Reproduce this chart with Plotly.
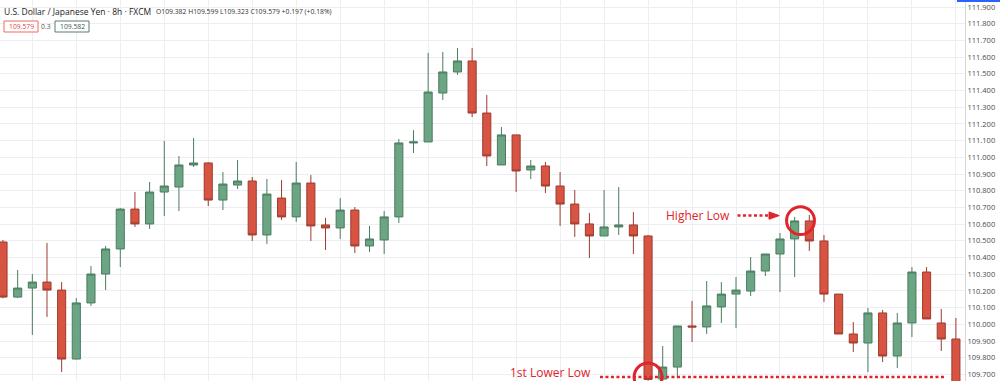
import plotly.graph_objects as go

# ---- data (USD/JPY 8h candles) ----
candle_index = list(range(66))
opens = [110.493, 110.163, 110.217, 110.253, 110.205, 109.792, 110.128, 110.301, 110.451, 110.690,
         110.601, 110.792, 110.822, 110.954, 110.966, 110.744, 110.834, 110.858, 110.535, 110.756,
         110.643, 110.846, 110.595, 110.577, 110.684, 110.469, 110.505, 110.643, 111.086, 111.092,
         111.385, 111.511, 111.577, 111.265, 110.954, 111.134, 110.924, 110.948, 110.828, 110.720,
         110.601, 110.529, 110.583, 110.595, 110.529, 109.672, 109.744, 109.990, 109.984, 110.104,
         110.181, 110.199, 110.319, 110.421, 110.511, 110.619, 110.499, 110.181, 109.942, 109.888,
         110.068, 109.810, 110.008, 110.313, 110.008, 109.912]
highs = [110.505, 110.325, 110.301, 110.487, 110.253, 110.157, 110.349, 110.469, 110.696, 110.792,
         110.852, 111.098, 111.008, 111.116, 110.970, 110.912, 110.984, 110.882, 110.870, 110.864,
         110.972, 110.894, 110.637, 110.756, 110.702, 110.589, 110.678, 111.110, 111.163, 111.625,
         111.631, 111.654, 111.654, 111.373, 111.181, 111.134, 110.984, 110.972, 110.912, 110.804,
         110.667, 110.804, 110.822, 110.672, 110.535, 109.870, 109.990, 110.140, 110.259, 110.253,
         110.283, 110.403, 110.421, 110.547, 110.643, 110.655, 110.535, 110.181, 110.014, 110.098,
         110.086, 110.068, 110.343, 110.343, 110.092, 110.038]
lows = [110.155, 110.157, 109.936, 110.044, 109.714, 109.790, 110.110, 110.205, 110.343, 110.583,
        110.571, 110.649, 110.678, 110.942, 110.708, 110.684, 110.810, 110.499, 110.481, 110.625,
        110.613, 110.499, 110.445, 110.511, 110.427, 110.433, 110.421, 110.607, 111.026, 111.092,
        111.343, 111.493, 111.241, 110.948, 110.954, 110.792, 110.870, 110.786, 110.589, 110.523,
        110.397, 110.529, 110.535, 110.421, 109.662, 109.662, 109.678, 109.894, 109.942, 110.008,
        109.978, 110.169, 110.289, 110.193, 110.283, 110.439, 110.134, 109.942, 109.834, 109.714,
        109.774, 109.738, 109.924, 110.032, 109.840, 109.580]
closes = [110.163, 110.217, 110.253, 110.205, 109.792, 110.128, 110.301, 110.451, 110.690, 110.601,
          110.792, 110.828, 110.954, 110.966, 110.744, 110.840, 110.858, 110.535, 110.780, 110.643,
          110.846, 110.589, 110.577, 110.684, 110.469, 110.511, 110.643, 111.086, 111.092, 111.391,
          111.511, 111.577, 111.265, 111.008, 111.134, 110.918, 110.948, 110.828, 110.720, 110.601,
          110.529, 110.583, 110.595, 110.529, 109.670, 109.744, 109.990, 109.984, 110.110, 110.181,
          110.205, 110.319, 110.421, 110.511, 110.619, 110.499, 110.181, 109.942, 109.888, 110.068,
          109.810, 110.008, 110.313, 110.032, 109.912, 109.600]

price_ticks = [109.7, 109.8, 109.9, 110.0, 110.1, 110.2, 110.3, 110.4, 110.5, 110.6, 110.7,
               110.8, 110.9, 111.0, 111.1, 111.2, 111.3, 111.4, 111.5, 111.6, 111.7, 111.8, 111.9]

title_text = "U.S. Dollar / Japanese Yen · 8h · FXCM"
ohlc_text = "O109.382 H109.599 L109.323 C109.579 +0.197 (+0.18%)"
bid_text, spread_text, ask_text = "109.579", "0.3", "109.582"

higher_low_level = 110.651
lower_low_level = 109.684

# ---- layout geometry ----
W, H = 1000, 381
ML, MR = 0, 35
PW = W - ML - MR
Y_MIN, Y_MAX = 109.6605, 111.9419


def px(x):
    return (x - ML) / PW


def py(y):
    return 1 - y / H


RED = "#e0242b"

fig = go.Figure()
fig.add_trace(go.Candlestick(
    x=candle_index, open=opens, high=highs, low=lows, close=closes,
    increasing=dict(fillcolor="#6ba583", line=dict(color="#4b7c60", width=1)),
    decreasing=dict(fillcolor="#d75442", line=dict(color="#9e3b2f", width=1)),
    whiskerwidth=0, showlegend=False, hoverinfo="skip",
))

shapes = []
# "Higher Low" dotted arrow + circle
shapes.append(dict(type="line", xref="x", yref="y", x0=50.1, x1=52.3,
                   y0=higher_low_level, y1=higher_low_level,
                   line=dict(color=RED, width=2.5, dash="3px,2.5px"), layer="above"))
shapes.append(dict(type="path", xref="x", yref="y",
                   path=f"M 52.25 {higher_low_level + 0.022} L 52.95 {higher_low_level} L 52.25 {higher_low_level - 0.022} Z",
                   fillcolor=RED, line=dict(color=RED, width=1), layer="above"))
shapes.append(dict(type="circle", xref="x", yref="y", x0=53.45, x1=55.35,
                   y0=110.537, y1=110.704, line=dict(color=RED, width=3), layer="above"))
# "1st Lower Low" dotted line + circle
shapes.append(dict(type="line", xref="x", yref="y", x0=40.72, x1=64.3,
                   y0=lower_low_level, y1=lower_low_level,
                   line=dict(color=RED, width=2.5, dash="3px,2.5px"), layer="above"))
shapes.append(dict(type="circle", xref="x", yref="y", x0=43.05, x1=44.95,
                   y0=lower_low_level - 0.084, y1=lower_low_level + 0.084,
                   line=dict(color=RED, width=3), layer="above"))
# header boxes
shapes.append(dict(type="rect", xref="paper", yref="paper", x0=px(4), x1=px(38), y0=py(32), y1=py(21),
                   line=dict(color="#ef6a5f", width=1), fillcolor="white"))
shapes.append(dict(type="rect", xref="paper", yref="paper", x0=px(55), x1=px(89), y0=py(32), y1=py(21),
                   line=dict(color="#5f7a72", width=1), fillcolor="white"))
# small blue marker at top right
shapes.append(dict(type="rect", xref="paper", yref="paper", x0=px(957), x1=px(1000), y0=py(2), y1=py(0),
                   line=dict(width=0), fillcolor="#2962ff"))

annotations = [
    dict(text="Higher Low", xref="x", yref="y", x=49.75, y=higher_low_level, xanchor="right",
         yanchor="middle", showarrow=False, font=dict(family="Open Sans", size=12, color=RED)),
    dict(text="1st Lower Low", xref="x", yref="y", x=40.2, y=Y_MIN, xanchor="right",
         yanchor="bottom", showarrow=False, borderpad=0, yshift=-1,
         font=dict(family="Open Sans", size=12, color=RED)),
    dict(text=title_text, xref="paper", yref="paper", x=px(4), y=py(12), xanchor="left",
         yanchor="middle", showarrow=False, font=dict(family="Open Sans", size=8.5, color="#222"),
         xshift=-2),
    dict(text=ohlc_text, xref="paper", yref="paper", x=px(156), y=py(12), xanchor="left",
         yanchor="middle", showarrow=False, font=dict(family="Open Sans", size=6.8, color="#333"),
         xshift=-2),
    dict(text=bid_text, xref="paper", yref="paper", x=px(21), y=py(26.5), xanchor="center",
         yanchor="middle", showarrow=False, font=dict(family="Open Sans", size=6.8, color="#e0463c")),
    dict(text=spread_text, xref="paper", yref="paper", x=px(46), y=py(26.5), xanchor="center",
         yanchor="middle", showarrow=False, font=dict(family="Open Sans", size=6.8, color="#555")),
    dict(text=ask_text, xref="paper", yref="paper", x=px(72), y=py(26.5), xanchor="center",
         yanchor="middle", showarrow=False, font=dict(family="Open Sans", size=6.8, color="#3d5a52")),
]

fig.update_layout(
    width=W, height=H,
    margin=dict(l=ML, r=MR, t=0, b=0, pad=0),
    paper_bgcolor="white", plot_bgcolor="white",
    boxgap=0.21,
    shapes=shapes, annotations=annotations,
    xaxis=dict(range=[-0.205, 65.62], tickvals=list(range(2, 66, 3)), showticklabels=False,
               showgrid=True, gridcolor="#eceef2", gridwidth=1, zeroline=False, showline=False,
               ticks="", rangeslider=dict(visible=False), fixedrange=True),
    yaxis=dict(side="right", range=[Y_MIN, Y_MAX], tickvals=price_ticks, tickformat=".3f",
               showgrid=True, gridcolor="#eceef2", gridwidth=1, zeroline=False,
               showline=True, linecolor="#d4d6da", linewidth=1, ticks="",
               tickfont=dict(family="Open Sans", size=7.5, color="#4a4a4a"), fixedrange=True),
)

fig.write_html("out.html")
